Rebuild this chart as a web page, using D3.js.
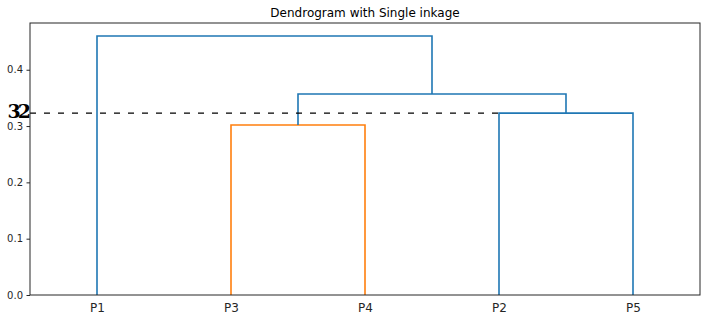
<!DOCTYPE html>
<html><head><meta charset="utf-8">
<script src="https://cdn.jsdelivr.net/npm/d3@7"></script>
<style>body{margin:0;background:#fff}svg{display:block}</style>
</head><body>
<svg id="c" width="706" height="322"></svg>
<script>
// Leaf order and labels
const leaves = ["P1", "P3", "P4", "P2", "P5"];
// Merges: [left node, right node, height, color]; leaves indexed 0..4, merged clusters 5..
const merges = [
  ["P3", "P4", 0.302, "#ff7f0e"],
  ["P2", "P5", 0.323, "#1f77b4"],
  ["M0", "M1", 0.357, "#1f77b4"],
  ["P1", "M2", 0.460, "#1f77b4"]
];
const cutHeight = 0.323;
const yTicks = [0.0, 0.1, 0.2, 0.3, 0.4];
const title = "Dendrogram with Single inkage";
const cutLabel = "32";

const svg = d3.select("#c");
const L = 30, R = 700, T = 23, B = 295;
const x = d3.scaleLinear().domain([0, leaves.length * 10]).range([L, R]);
const y = d3.scaleLinear().domain([0, 0.46 * 1.05]).range([B, T]);

// node positions
const pos = {};
leaves.forEach((p, i) => pos[p] = {x: 5 + 10 * i, h: 0});
merges.forEach((m, i) => {
  const a = pos[m[0]], b = pos[m[1]];
  const line = d3.line().x(d => x(d[0])).y(d => y(d[1]));
  svg.append("path")
    .attr("d", line([[a.x, a.h], [a.x, m[2]], [b.x, m[2]], [b.x, b.h]]))
    .attr("fill", "none").attr("stroke", m[3]).attr("stroke-width", 1.6);
  pos["M" + i] = {x: (a.x + b.x) / 2, h: m[2]};
});

// cut line
svg.append("line")
  .attr("x1", L).attr("x2", x(pos["P2"].x))
  .attr("y1", y(cutHeight)).attr("y2", y(cutHeight))
  .attr("stroke", "#000").attr("stroke-width", 1.2).attr("stroke-dasharray", "6,8");
svg.append("text").attr("x", 28).attr("y", y(cutHeight) + 5)
  .attr("text-anchor", "end").attr("font-family", "DejaVu Serif").attr("font-weight", "bold")
  .attr("font-size", 19).attr("letter-spacing", -3).text(cutLabel);

// axes
const yAxis = d3.axisLeft(y).tickValues(yTicks).tickFormat(d3.format(".1f")).tickSize(3.5).tickPadding(3.5);
const gy = svg.append("g").attr("transform", `translate(${L},0)`).call(yAxis);
gy.select(".domain").remove();
gy.selectAll("text").attr("font-family", "DejaVu Sans").attr("font-size", 10).attr("fill", "#262626");
gy.selectAll("line").attr("stroke", "#262626");

const xAxis = d3.axisBottom(x).tickValues(leaves.map((p, i) => 5 + 10 * i))
  .tickFormat((d, i) => leaves[i]).tickSize(0).tickPadding(8);
const gx = svg.append("g").attr("transform", `translate(0,${B})`).call(xAxis);
gx.select(".domain").remove();
gx.selectAll("text").attr("font-family", "DejaVu Sans").attr("font-size", 12).attr("fill", "#262626");

// frame
svg.append("rect").attr("x", L).attr("y", T).attr("width", R - L).attr("height", B - T)
  .attr("fill", "none").attr("stroke", "#262626").attr("stroke-width", 1);

svg.append("text").attr("x", (L + R) / 2).attr("y", 17).attr("text-anchor", "middle")
  .attr("font-family", "DejaVu Sans").attr("font-size", 12).attr("fill", "#000").text(title);
</script>
</body></html>
